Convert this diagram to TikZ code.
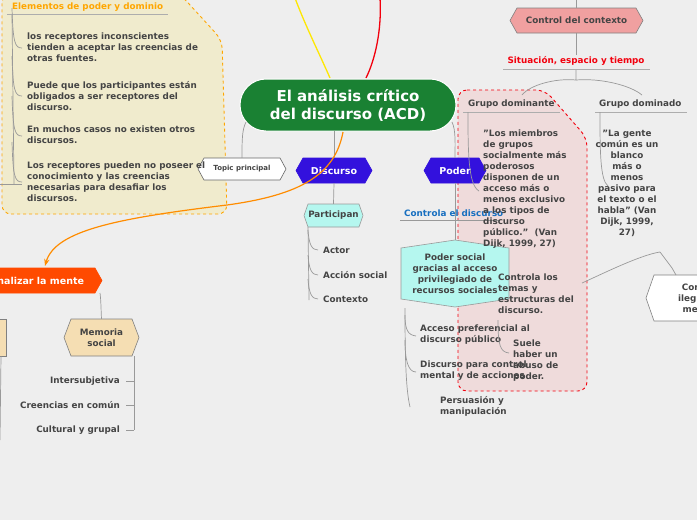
\documentclass[tikz,border=0pt]{standalone}
\usepackage{fontspec}
\setmainfont{DejaVu Sans}
\usetikzlibrary{arrows.meta}
\definecolor{bg}{HTML}{EEEEEE}
\definecolor{txt}{HTML}{444444}
\definecolor{lin}{HTML}{999999}
\definecolor{dgreen}{HTML}{1A8133}
\definecolor{blu}{HTML}{3311DD}
\definecolor{cyan1}{HTML}{B5F7EF}
\definecolor{tan1}{HTML}{F5DEB3}
\definecolor{pink1}{HTML}{F0A0A0}
\definecolor{orng}{HTML}{FF4A00}
\tikzset{
  x=1pt,y=-1pt,
  tx/.style={font=\fontsize{8.8}{11}\selectfont\bfseries,text=txt,align=left,inner sep=0pt,anchor=north west},
  txc/.style={tx,align=center,anchor=north},
  hexbox/.style={draw=gray!80!black,line width=0.6pt},
  conn/.style={draw=lin,line width=0.7pt},
}
% \hexn{name}{cx}{cy}{w}{h}{inset}{path style}{node style}{text}
\newcommand\hexn[9]{%
  \path[hexbox,#7] ({#2-#4/2},#3) -- ({#2-#4/2+#6},{#3-#5/2}) -- ({#2+#4/2-#6},{#3-#5/2}) -- ({#2+#4/2},#3)
     -- ({#2+#4/2-#6},{#3+#5/2}) -- ({#2-#4/2+#6},{#3+#5/2}) -- cycle;
  \node[minimum width=#4,minimum height=#5,inner sep=0pt,align=center,font=\fontsize{8.8}{11}\selectfont\bfseries,text=txt,#8] (#1) at (#2,#3) {#9};}
\newcommand\q{\char34}
\begin{document}
\begin{tikzpicture}
\useasboundingbox (0,0) rectangle (697,520);
\fill[bg] (0,0) rectangle (697,520);
% yellow region
\draw[dashed,draw=orange!70!yellow,fill=yellow!12!bg!95!brown,line width=0.9pt,rounded corners=9pt]
  (2,-6) -- (180,-6) -- (222,40) -- (227,214) -- (2,214) -- cycle;
% pink region
\draw[dashed,draw=red!80!purple,fill=red!8!bg,line width=0.9pt,rounded corners=9pt]
  (458,90) -- (545,90) -- (587,138) -- (587,391) -- (458,391) -- cycle;
% colored curves
\draw[yellow!90!orange,line width=1.3pt] (295,-2) .. controls (305,25) and (320,55) .. (330,78);
\draw[red!80!purple,line width=1.3pt] (380,-2) .. controls (382,30) and (375,60) .. (366,78);
\node[rectangle,rounded corners=26pt,fill=dgreen,draw=white,line width=1pt,minimum width=216pt,minimum height=52pt,
  text=white,font=\fontsize{15}{18}\selectfont\bfseries,align=center] (c) at (348,105) {El análisis crítico\\del discurso (ACD)};
% nodes
\hexn{tp}{242}{169}{88}{22}{6}{fill=white}{font=\fontsize{7}{8}\selectfont\bfseries}{Topic principal}
\hexn{dis}{334}{170.5}{76}{25}{7}{fill=blu,draw=blu}{text=white,font=\fontsize{9.5}{11}\selectfont\bfseries}{Discurso}
\hexn{pod}{455}{170.5}{62}{25}{7}{fill=blu,draw=blu}{text=white,font=\fontsize{9.5}{11}\selectfont\bfseries}{Poder}
\hexn{par}{333.5}{215.5}{59}{23}{4}{fill=cyan1,draw=lin}{}{Participan}
\path[hexbox,fill=cyan1,draw=lin] (401,248) -- (455,240) -- (509,248) -- (509,299) -- (455,307) -- (401,299) -- cycle;
\node[minimum width=108pt,minimum height=67pt,inner sep=0pt,align=center,font=\fontsize{8.8}{11}\selectfont\bfseries,text=txt] (ps) at (455,273.5) {Poder social\\gracias al acceso\\privilegiado de\\recursos sociales};
\hexn{cc}{576.5}{20.5}{133}{25}{7}{fill=pink1,draw=gray}{}{Control del contexto}
\hexn{ci}{700}{298}{108}{46}{8}{fill=white,draw=gray}{}{Control\\ilegítimo\\mental}
\hexn{am}{37}{280.5}{130}{25}{7}{fill=orng,draw=orng}{text=white,font=\fontsize{9.5}{11}\selectfont\bfseries}{Analizar la mente}
\hexn{ms}{101.5}{337.5}{75}{37}{7}{fill=tan1,draw=gray}{}{Memoria\\social}
\node[rectangle,fill=tan1,draw=gray,minimum width=40pt,minimum height=37pt] (lb) at (-14,337.5) {};
% connectors
\draw[conn] (246,122) .. controls (242,130) and (242,140) .. (tp.north);
\draw[conn] (334,131) -- (dis.north);
\draw[conn] (452,122) .. controls (456,130) and (455,145) .. (pod.north);
\draw[conn] (dis.south) -- (par.north);
\draw[conn] (pod.south) -- (ps.north);
\draw[conn] (100,293) .. controls (101,300) and (101,310) .. (ms.north);
\draw[conn] (cc.north) -- (576.5,0);
\draw[conn] (cc.south) -- (576.5,55);
\draw[conn] (576,69) -- (576,80) .. controls (555,78) and (530,85) .. (522,95);
\draw[conn] (576,80) .. controls (600,78) and (630,85) .. (642,95);
\draw[conn] (660,252) .. controls (640,255) and (600,275) .. (582,283);
\draw[conn] (676,275) -- (672,268) -- (660,252);
% orange arrow
\draw[orange!90!yellow,line width=1.2pt,-{Stealth[length=7pt]}] (343,132) .. controls (335,175) and (300,195) .. (227,205)
   .. controls (120,218) and (55,230) .. (45,266);
% yellow region texts
\node[tx,text=orange!70!yellow,anchor=west] at (12,7) {Elementos de poder y dominio};
\draw[conn,draw=lin!80] (7,14.5) -- (168,14.5);
\draw[conn] (12,15) -- (14,184);
\foreach \y in {48,96,136,182} {\draw[conn] (12,\y-40) .. controls (13,\y-5) and (15,\y) .. (22,\y);}
\draw[conn] (0,184) -- (22,184);
\node[tx] at (27,33) {los receptores inconscientes\\tienden a aceptar las creencias de\\otras fuentes.};
\node[tx] at (27,81) {Puede que los participantes están\\obligados a ser receptores del\\discurso.};
\node[tx] at (27,126) {En muchos casos no existen otros\\discursos.};
\node[tx] at (27,162) {Los receptores pueden no poseer el\\conocimiento y las creencias\\necesarias para desafiar los\\discursos.};
% participan items
\draw[conn] (308,227) -- (309,300);
\foreach \y in {250,275,299} {\draw[conn] (308,\y-20) .. controls (309,\y-5) and (312,\y) .. (318,\y);}
\node[tx,anchor=west] at (323,250) {Actor};
\node[tx,anchor=west] at (323,275) {Acción social};
\node[tx,anchor=west] at (323,299) {Contexto};
% controla el discurso
\node[tx,text=cyan!50!blue,anchor=west] at (404,213) {Controla el discurso};
\draw[conn] (400,220.5) -- (500,220.5);
% poder social items
\draw[conn] (405,308) .. controls (405,360) and (406,390) .. (410,407);
\draw[conn] (405,315) .. controls (405,330) and (408,335) .. (416,336);
\draw[conn] (405,340) .. controls (405,360) and (408,372) .. (416,372);
\node[tx] at (420,325) {Acceso preferencial al\\discurso público};
\node[tx] at (420,361) {Discurso para control\\mental y de acciones};
\node[tx] at (440,396) {Persuasión y\\manipulación};
% pink texts
\node[tx,anchor=west] at (468,104) {Grupo dominante};
\draw[conn,draw=lin!80] (463,112) -- (560,112);
\node[tx,anchor=west] at (599,104) {Grupo dominado};
\draw[conn,draw=lin!80] (595,112) -- (687,112);
\draw[conn] (468,112) .. controls (468,150) and (468,185) .. (479,191);
\draw[conn] (600,112) .. controls (600,150) and (600,180) .. (608,186);
\node[tx] at (483,130) {\q Los miembros\\de grupos\\socialmente más\\poderosos\\disponen de un\\acceso más o\\menos exclusivo\\a los tipos de\\discurso\\público.\q\ \ (Van\\Dijk, 1999, 27)};
\node[txc] at (627,130) {\q La gente\\común es un\\blanco\\más o\\menos\\pasivo para\\el texto o el\\habla\q\ (Van\\Dijk, 1999,\\27)};
\node[tx] at (498,274) {Controla los\\temas y\\estructuras del\\discurso.};
\draw[conn] (498,320) .. controls (498,345) and (500,352) .. (509,353);
\node[tx] at (513,340) {Suele\\haber un\\abuso de\\poder.};
% situación
\node[tx,text=red!80!purple,anchor=center] at (576,61) {Situación, espacio y tiempo};
\draw[conn,draw=lin!80] (503,69.5) -- (650,69.5);
% memoria social items
\draw[conn] (134,356) -- (134,430);
\foreach \y/\t in {381/Intersubjetiva,405/Creencias en común,430/Cultural y grupal} {
  \draw[conn] (126,\y) -- (134,\y);
  \node[tx,anchor=east] at (120,\y) {\t};}
\draw[conn] (1,356) -- (0,440);
\end{tikzpicture}
\end{document}
